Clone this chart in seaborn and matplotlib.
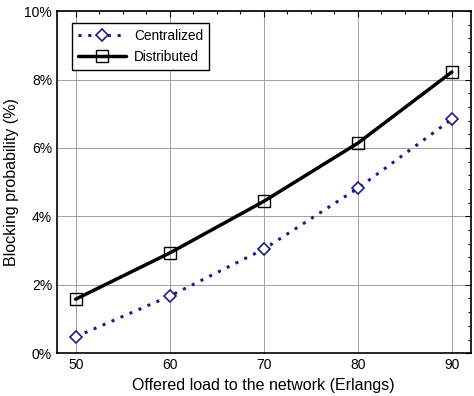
import seaborn as sns
import matplotlib.pyplot as plt
import pandas as pd
from matplotlib.ticker import MultipleLocator, FuncFormatter

# offered load (Erlangs) and blocking probability (%)
load = [50, 60, 70, 80, 90]
centralized = [0.48, 1.67, 3.04, 4.82, 6.84]
distributed = [1.58, 2.93, 4.44, 6.14, 8.22]

df = pd.DataFrame({"load": load, "Centralized": centralized, "Distributed": distributed})

sns.set_theme(style="white")
plt.rcParams["font.family"] = ["Liberation Sans", "DejaVu Sans"]
plt.rcParams["text.color"] = "black"
plt.rcParams["axes.labelcolor"] = "black"
plt.rcParams["xtick.color"] = "black"
plt.rcParams["ytick.color"] = "black"

fig, ax = plt.subplots(figsize=(4.74, 3.96), dpi=100)

sns.lineplot(data=df, x="load", y="Centralized", ax=ax, color="#1c1c8a",
             linestyle=(0, (1, 2.2)), linewidth=2.2, marker="D", markersize=6,
             markerfacecolor="white", markeredgecolor="#1c1c8a", markeredgewidth=1.2,
             label="Centralized")
sns.lineplot(data=df, x="load", y="Distributed", ax=ax, color="black",
             linewidth=2.5, marker="s", markersize=9,
             markerfacecolor="none", markeredgecolor="black", markeredgewidth=1.0,
             label="Distributed")

ax.set_xlim(48, 92)
ax.set_ylim(0, 10)
ax.xaxis.set_major_locator(MultipleLocator(10))
ax.xaxis.set_minor_locator(MultipleLocator(2.5))
ax.yaxis.set_major_locator(MultipleLocator(2))
ax.yaxis.set_minor_locator(MultipleLocator(0.4))
ax.yaxis.set_major_formatter(FuncFormatter(lambda v, _: f"{v:.0f}%"))
ax.tick_params(which="both", direction="in", top=True, right=True, labelsize=10,
               color="black")
ax.tick_params(which="major", length=4, width=0.8)
ax.tick_params(which="minor", length=2.5, width=0.8)
ax.grid(True, which="major", color="#a0a0a0", linewidth=0.7)
for s in ax.spines.values():
    s.set_color("black")
    s.set_linewidth(1.2)

ax.set_xlabel("Offered load to the network (Erlangs)", fontsize=11.5)
ax.set_ylabel("Blocking probability (%)", fontsize=11.5)

leg = ax.legend(loc="upper left", bbox_to_anchor=(0.02, 0.985), fontsize=9.8,
                frameon=True, fancybox=False, edgecolor="black", framealpha=1,
                handlelength=3.5, handletextpad=0.6, borderpad=0.45,
                labelspacing=0.5)
leg.get_frame().set_linewidth(1.0)

fig.subplots_adjust(left=0.12, right=0.993, top=0.972, bottom=0.108)
fig.savefig("out.png", dpi=100)
